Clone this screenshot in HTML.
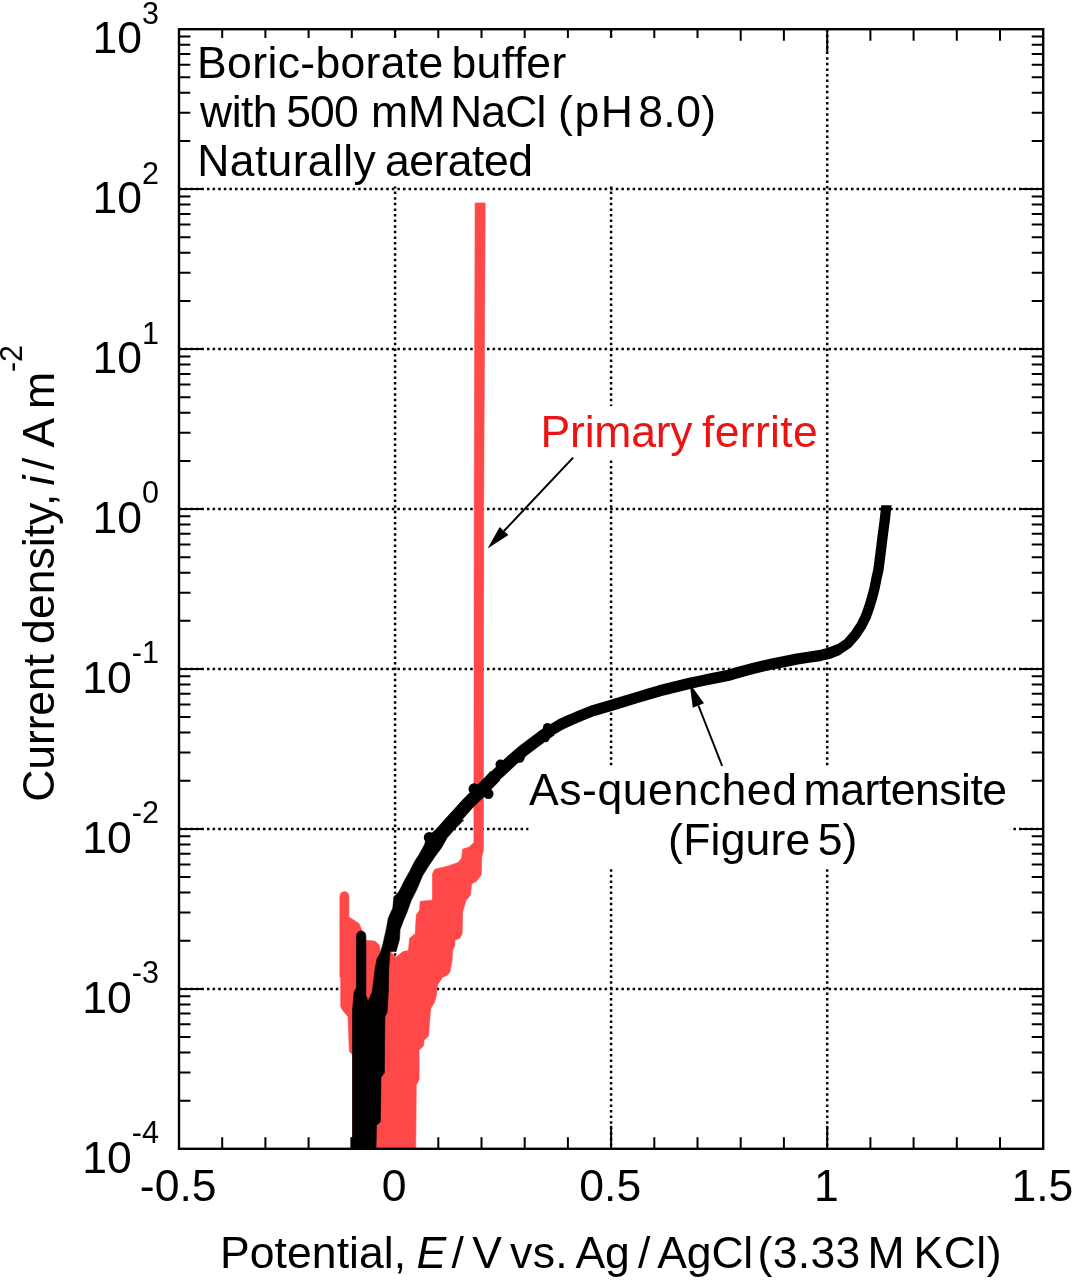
<!DOCTYPE html>
<html lang="en"><head><meta charset="utf-8"><title>Polarization curves</title>
<style>html,body{margin:0;padding:0;background:#fff}svg{display:block;filter:blur(0.45px)}text{font-family:"Liberation Sans",sans-serif}</style>
</head><body>
<svg width="1072" height="1280" viewBox="0 0 1072 1280">
<rect width="1072" height="1280" fill="#fff"/>
<g stroke="#000" stroke-width="2.5" stroke-dasharray="2.5 3.1" fill="none">
<line x1="179.0" y1="189.1" x2="1043.2" y2="189.1"/>
<line x1="179.0" y1="349.1" x2="1043.2" y2="349.1"/>
<line x1="179.0" y1="509.0" x2="1043.2" y2="509.0"/>
<line x1="179.0" y1="669.0" x2="1043.2" y2="669.0"/>
<line x1="179.0" y1="828.9" x2="1043.2" y2="828.9"/>
<line x1="179.0" y1="988.9" x2="1043.2" y2="988.9"/>
<line x1="395.1" y1="29.2" x2="395.1" y2="1148.8"/>
<line x1="611.1" y1="29.2" x2="611.1" y2="1148.8"/>
<line x1="827.2" y1="29.2" x2="827.2" y2="1148.8"/>
</g>
<g stroke="#000" stroke-width="2" fill="none">
<path d="M222.2 1148.8v-11.5 M222.2 29.2v11.5"/>
<path d="M265.4 1148.8v-11.5 M265.4 29.2v11.5"/>
<path d="M308.6 1148.8v-11.5 M308.6 29.2v11.5"/>
<path d="M351.8 1148.8v-11.5 M351.8 29.2v11.5"/>
<path d="M395.1 1148.8v-23 M395.1 29.2v23"/>
<path d="M438.3 1148.8v-11.5 M438.3 29.2v11.5"/>
<path d="M481.5 1148.8v-11.5 M481.5 29.2v11.5"/>
<path d="M524.7 1148.8v-11.5 M524.7 29.2v11.5"/>
<path d="M567.9 1148.8v-11.5 M567.9 29.2v11.5"/>
<path d="M611.1 1148.8v-23 M611.1 29.2v23"/>
<path d="M654.3 1148.8v-11.5 M654.3 29.2v11.5"/>
<path d="M697.5 1148.8v-11.5 M697.5 29.2v11.5"/>
<path d="M740.7 1148.8v-11.5 M740.7 29.2v11.5"/>
<path d="M783.9 1148.8v-11.5 M783.9 29.2v11.5"/>
<path d="M827.2 1148.8v-23 M827.2 29.2v23"/>
<path d="M870.4 1148.8v-11.5 M870.4 29.2v11.5"/>
<path d="M913.6 1148.8v-11.5 M913.6 29.2v11.5"/>
<path d="M956.8 1148.8v-11.5 M956.8 29.2v11.5"/>
<path d="M1000.0 1148.8v-11.5 M1000.0 29.2v11.5"/>
<path d="M179.0 1100.7h11.5 M1043.2 1100.7h-11.5"/>
<path d="M179.0 1072.5h11.5 M1043.2 1072.5h-11.5"/>
<path d="M179.0 1052.5h11.5 M1043.2 1052.5h-11.5"/>
<path d="M179.0 1037.0h11.5 M1043.2 1037.0h-11.5"/>
<path d="M179.0 1024.3h11.5 M1043.2 1024.3h-11.5"/>
<path d="M179.0 1013.6h11.5 M1043.2 1013.6h-11.5"/>
<path d="M179.0 1004.4h11.5 M1043.2 1004.4h-11.5"/>
<path d="M179.0 996.2h11.5 M1043.2 996.2h-11.5"/>
<path d="M179.0 988.9h23 M1043.2 988.9h-23"/>
<path d="M179.0 940.7h11.5 M1043.2 940.7h-11.5"/>
<path d="M179.0 912.5h11.5 M1043.2 912.5h-11.5"/>
<path d="M179.0 892.6h11.5 M1043.2 892.6h-11.5"/>
<path d="M179.0 877.1h11.5 M1043.2 877.1h-11.5"/>
<path d="M179.0 864.4h11.5 M1043.2 864.4h-11.5"/>
<path d="M179.0 853.7h11.5 M1043.2 853.7h-11.5"/>
<path d="M179.0 844.4h11.5 M1043.2 844.4h-11.5"/>
<path d="M179.0 836.2h11.5 M1043.2 836.2h-11.5"/>
<path d="M179.0 828.9h23 M1043.2 828.9h-23"/>
<path d="M179.0 780.8h11.5 M1043.2 780.8h-11.5"/>
<path d="M179.0 752.6h11.5 M1043.2 752.6h-11.5"/>
<path d="M179.0 732.6h11.5 M1043.2 732.6h-11.5"/>
<path d="M179.0 717.1h11.5 M1043.2 717.1h-11.5"/>
<path d="M179.0 704.5h11.5 M1043.2 704.5h-11.5"/>
<path d="M179.0 693.7h11.5 M1043.2 693.7h-11.5"/>
<path d="M179.0 684.5h11.5 M1043.2 684.5h-11.5"/>
<path d="M179.0 676.3h11.5 M1043.2 676.3h-11.5"/>
<path d="M179.0 669.0h23 M1043.2 669.0h-23"/>
<path d="M179.0 620.8h11.5 M1043.2 620.8h-11.5"/>
<path d="M179.0 592.7h11.5 M1043.2 592.7h-11.5"/>
<path d="M179.0 572.7h11.5 M1043.2 572.7h-11.5"/>
<path d="M179.0 557.2h11.5 M1043.2 557.2h-11.5"/>
<path d="M179.0 544.5h11.5 M1043.2 544.5h-11.5"/>
<path d="M179.0 533.8h11.5 M1043.2 533.8h-11.5"/>
<path d="M179.0 524.5h11.5 M1043.2 524.5h-11.5"/>
<path d="M179.0 516.3h11.5 M1043.2 516.3h-11.5"/>
<path d="M179.0 509.0h23 M1043.2 509.0h-23"/>
<path d="M179.0 460.9h11.5 M1043.2 460.9h-11.5"/>
<path d="M179.0 432.7h11.5 M1043.2 432.7h-11.5"/>
<path d="M179.0 412.7h11.5 M1043.2 412.7h-11.5"/>
<path d="M179.0 397.2h11.5 M1043.2 397.2h-11.5"/>
<path d="M179.0 384.6h11.5 M1043.2 384.6h-11.5"/>
<path d="M179.0 373.9h11.5 M1043.2 373.9h-11.5"/>
<path d="M179.0 364.6h11.5 M1043.2 364.6h-11.5"/>
<path d="M179.0 356.4h11.5 M1043.2 356.4h-11.5"/>
<path d="M179.0 349.1h23 M1043.2 349.1h-23"/>
<path d="M179.0 300.9h11.5 M1043.2 300.9h-11.5"/>
<path d="M179.0 272.8h11.5 M1043.2 272.8h-11.5"/>
<path d="M179.0 252.8h11.5 M1043.2 252.8h-11.5"/>
<path d="M179.0 237.3h11.5 M1043.2 237.3h-11.5"/>
<path d="M179.0 224.6h11.5 M1043.2 224.6h-11.5"/>
<path d="M179.0 213.9h11.5 M1043.2 213.9h-11.5"/>
<path d="M179.0 204.6h11.5 M1043.2 204.6h-11.5"/>
<path d="M179.0 196.5h11.5 M1043.2 196.5h-11.5"/>
<path d="M179.0 189.1h23 M1043.2 189.1h-23"/>
<path d="M179.0 141.0h11.5 M1043.2 141.0h-11.5"/>
<path d="M179.0 112.8h11.5 M1043.2 112.8h-11.5"/>
<path d="M179.0 92.8h11.5 M1043.2 92.8h-11.5"/>
<path d="M179.0 77.3h11.5 M1043.2 77.3h-11.5"/>
<path d="M179.0 64.7h11.5 M1043.2 64.7h-11.5"/>
<path d="M179.0 54.0h11.5 M1043.2 54.0h-11.5"/>
<path d="M179.0 44.7h11.5 M1043.2 44.7h-11.5"/>
<path d="M179.0 36.5h11.5 M1043.2 36.5h-11.5"/>
</g>
<rect x="190.5" y="38" width="531.5" height="148.5" fill="#fff"/>
<rect x="538" y="406" width="284" height="52" fill="#fff"/>
<rect x="528.5" y="766.5" width="482" height="99.5" fill="#fff"/>
<text x="197.1" y="77.8" font-size="44.5" letter-spacing="0.35">Boric-borate</text>
<text x="451.5" y="77.8" font-size="44.5" letter-spacing="0.36">buffer</text>
<text x="200.1" y="126.8" font-size="44.5" letter-spacing="-0.57">with</text>
<text x="286.2" y="126.8" font-size="44.5" letter-spacing="-0.85">500</text>
<text x="370.9" y="126.8" font-size="44.5">mM</text>
<text x="450.0" y="126.8" font-size="44.5" letter-spacing="-0.83">NaCl</text>
<text x="557.9" y="126.8" font-size="44.5" letter-spacing="1.70">(pH</text>
<text x="638.2" y="126.8" font-size="44.5" letter-spacing="0.43">8.0)</text>
<text x="197.3" y="175.8" font-size="44.5" letter-spacing="0.35">Naturally</text>
<text x="385.0" y="175.8" font-size="44.5" letter-spacing="-0.50">aerated</text>
<text x="540.6" y="446.6" font-size="44.5" fill="#EB1414" letter-spacing="-0.22">Primary</text>
<text x="702.0" y="446.6" font-size="44.5" fill="#EB1414" letter-spacing="0.33">ferrite</text>
<text x="529.0" y="805.4" font-size="44.5" letter-spacing="0.57">As-quenched</text>
<text x="803.6" y="805.4" font-size="44.5" letter-spacing="-0.48">martensite</text>
<text x="668.1" y="855.2" font-size="44.5" letter-spacing="0.22">(Figure</text>
<text x="817.8" y="855.2" font-size="44.5" letter-spacing="-0.10">5)</text>
<polygon fill="#FF4848" stroke="#FF4848" stroke-width="0.6" stroke-linejoin="round" points="475.1,203.0 485.2,203.0 483.7,500.0 483.4,850.2 481.7,856.9 481.2,874.9 476.1,881.6 471.6,883.8 470.5,895.0 466.0,900.6 462.7,911.8 462.1,934.2 459.3,938.7 454.9,939.8 454.9,945.4 452.6,949.9 452.1,960.0 450.0,972.0 447.5,975.0 442.5,977.5 437.5,985.0 436.3,996.0 434.2,1003.0 431.0,1008.0 430.3,1012.0 428.6,1035.7 424.1,1040.2 423.5,1045.8 419.1,1050.3 419.1,1079.4 416.3,1085.0 415.7,1148.5 352.5,1148.5 352.5,1054.8 349.3,1051.4 348.0,1016.7 342.4,1010.0 340.7,1006.5 340.7,977.4 339.9,977.0 339.9,896.0 340.6,893.6 342.0,892.3 344.4,891.6 346.8,892.3 348.2,893.6 348.9,896.0 348.9,917.0 352.5,919.2 359.2,923.7 361.4,929.3 365.9,940.4 374.9,941.0 379.3,944.9 380.4,951.6 390.0,951.6 396.1,957.2 402.8,951.6 408.4,950.5 409.6,938.2 415.2,933.7 416.3,914.7 419.6,910.2 420.2,901.3 431.9,900.2 432.5,898.4 432.5,873.7 434.7,869.3 448.1,865.9 458.2,862.5 461.6,858.1 462.7,849.1 469.4,846.9 473.9,842.4 473.9,820.0 474.2,500.0"/>
<polygon fill="#000" stroke="#000" stroke-width="0.6" stroke-linejoin="round" points="361.2,930.9 363.6,931.6 365.2,933.2 365.9,935.6 365.9,995.3 368.1,1000.9 372.1,991.9 373.7,980.7 374.9,969.6 377.1,958.4 380.4,952.8 382.7,944.9 386.0,930.4 388.3,918.1 392.8,908.0 393.9,896.8 398.4,892.3 400.0,889.4 404.5,880.4 410.1,870.4 414.6,861.4 419.0,854.7 424.6,844.6 426.9,835.7 431.3,833.4 438.1,827.8 447.0,820.0 463.8,820.0 454.9,829.0 447.0,837.9 441.4,848.0 434.7,856.9 428.0,867.0 422.4,876.0 416.8,889.4 411.2,900.6 406.7,912.9 403.4,920.7 400.0,929.7 399.5,939.3 396.1,951.6 390.0,951.6 388.8,969.6 388.3,992.0 387.2,1012.1 384.9,1016.7 384.4,1072.7 381.0,1077.2 380.4,1121.9 376.5,1125.3 376.0,1148.5 350.8,1148.5 350.8,1137.6 352.5,1137.6 352.5,1054.8 352.5,1010.0 354.1,992.0 356.4,987.5 356.4,935.6 357.1,933.2 358.8,931.6"/>
<polyline fill="none" stroke="#000" stroke-width="13.2" stroke-linejoin="round" points="425.6,858.0 432.1,848.6 436.8,840.2 443.3,830.9 449.9,823.4 459.2,813.2 468.5,802.9 478.3,793.2 487.5,784.0 495.5,775.6"/>
<polyline fill="none" stroke="#000" stroke-width="12.2" stroke-linejoin="round" points="487.5,784.0 495.5,775.6 504.5,767.2 513.6,758.8 522.9,750.8 532.2,743.8 541.6,736.8 550.9,730.3"/>
<polyline fill="none" stroke="#000" stroke-width="11.2" stroke-linejoin="round" points="541.6,736.8 550.9,730.3 560.2,724.7 570.0,720.2 581.2,715.4 592.4,710.9 603.6,707.6 611.2,705.3 626.0,700.9 637.2,697.5 648.4,694.1 659.6,690.8 670.7,688.0 681.9,685.2 690.0,683.3 700.0,681.1 710.0,679.0 720.0,676.9 730.0,674.9 741.2,671.7 752.4,668.7 763.6,665.9 774.8,663.4 786.0,661.2 797.2,659.0 808.4,657.2 819.6,655.6 829.3,653.2 838.7,649.6"/>
<clipPath id="capclip"><rect x="800" y="505.3" width="200" height="200"/></clipPath>
<g clip-path="url(#capclip)">
<polyline fill="none" stroke="#000" stroke-width="10.3" stroke-linejoin="round" points="829.3,653.2 838.7,649.6 848.0,643.2 855.4,634.6 861.0,626.2 865.7,616.9 869.4,606.6 872.2,597.3 874.6,588.0 876.4,578.7 878.4,570.0 880.7,552.0 882.8,534.8 884.8,520.0 886.4,505.3 887.2,498.0"/>
</g>
<circle cx="474.1" cy="788.9" r="5.6" fill="#000"/>
<circle cx="488.3" cy="793.8" r="5.2" fill="#000"/>
<circle cx="429.3" cy="837.4" r="5.5" fill="#000"/>
<circle cx="500.5" cy="764.5" r="5.0" fill="#000"/>
<circle cx="519.5" cy="757.5" r="5.2" fill="#000"/>
<circle cx="547.5" cy="727.5" r="4.6" fill="#000"/>
<circle cx="545.5" cy="738" r="4.2" fill="#000"/>
<line x1="573.1" y1="457.6" x2="504.0" y2="531.0" stroke="#000" stroke-width="2"/>
<polygon fill="#000" points="487.6,548.5 499.7,526.9 508.4,535.1"/>
<line x1="722.2" y1="766.0" x2="698.4" y2="705.5" stroke="#000" stroke-width="2"/>
<polygon fill="#000" points="689.6,683.2 704.0,703.3 692.8,707.7"/>
<g stroke="#000" stroke-width="2.4" fill="none">
<rect x="179.0" y="29.2" width="864.2" height="1119.6"/>
</g>
<text x="158.9" y="53.0" font-size="44.5" text-anchor="end">10<tspan font-size="30.5" dy="-29.4">3</tspan></text>
<text x="158.9" y="212.9" font-size="44.5" text-anchor="end">10<tspan font-size="30.5" dy="-29.4">2</tspan></text>
<text x="158.9" y="372.9" font-size="44.5" text-anchor="end">10<tspan font-size="30.5" dy="-29.4">1</tspan></text>
<text x="158.9" y="532.8" font-size="44.5" text-anchor="end">10<tspan font-size="30.5" dy="-29.4">0</tspan></text>
<text x="158.9" y="692.8" font-size="44.5" text-anchor="end">10<tspan font-size="30.5" dy="-29.4">-1</tspan></text>
<text x="158.9" y="852.7" font-size="44.5" text-anchor="end">10<tspan font-size="30.5" dy="-29.4">-2</tspan></text>
<text x="158.9" y="1012.7" font-size="44.5" text-anchor="end">10<tspan font-size="30.5" dy="-29.4">-3</tspan></text>
<text x="158.9" y="1172.6" font-size="44.5" text-anchor="end">10<tspan font-size="30.5" dy="-29.4">-4</tspan></text>
<text x="178.2" y="1200.8" font-size="44.5" text-anchor="middle">-0.5</text>
<text x="394.2" y="1200.8" font-size="44.5" text-anchor="middle">0</text>
<text x="610.3" y="1200.8" font-size="44.5" text-anchor="middle">0.5</text>
<text x="826.4" y="1200.8" font-size="44.5" text-anchor="middle">1</text>
<text x="1042.4" y="1200.8" font-size="44.5" text-anchor="middle">1.5</text>
<text x="220.0" y="1268" font-size="44.5" letter-spacing="0.07">Potential,</text>
<text x="416.5" y="1268" font-size="44.5" font-style="italic">E</text>
<text x="451.6" y="1268" font-size="44.5">/</text>
<text x="472.3" y="1268" font-size="44.5">V</text>
<text x="510.1" y="1268" font-size="44.5" letter-spacing="0.30">vs.</text>
<text x="575.4" y="1268" font-size="44.5">Ag</text>
<text x="638.1" y="1268" font-size="44.5">/</text>
<text x="657.3" y="1268" font-size="44.5" letter-spacing="-0.17">AgCl</text>
<text x="757.5" y="1268" font-size="44.5" letter-spacing="0.32">(3.33</text>
<text x="867.5" y="1268" font-size="44.5">M</text>
<text x="913.6" y="1268" font-size="44.5" letter-spacing="0.47">KCl)</text>
<g transform="translate(54.4,800) rotate(-90)">
<text x="-1.7" y="0" font-size="44.5" letter-spacing="-0.13">Current</text>
<text x="156.1" y="0" font-size="44.5" letter-spacing="0.04">density,</text>
<text x="314.5" y="0" font-size="44.5" font-style="italic">i</text>
<text x="329.9" y="0" font-size="44.5">/</text>
<text x="352.5" y="0" font-size="44.5">A</text>
<text x="390.9" y="0" font-size="44.5">m</text>
<text x="427.9" y="-32" font-size="30.5">-2</text>
</g>
</svg></body></html>
